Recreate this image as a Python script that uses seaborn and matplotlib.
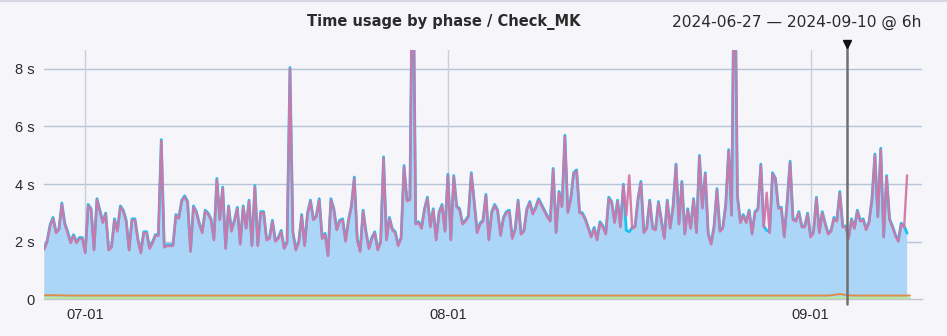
import numpy as np
import pandas as pd
import matplotlib
matplotlib.use("Agg")
import matplotlib.pyplot as plt
import matplotlib.dates as mdates
import matplotlib.transforms as mtransforms
import seaborn as sns

# ---------------- data (seconds, 6h steps from 2024-06-27 12:00) ----------------
start_time = "2024-06-27 12:00"
step = "6h"

# top of the stacked blue area (cyan edge)
stack_total = [
    1.73, 2.0, 2.55, 2.8, 2.3, 2.4, 3.3, 2.6, 2.3, 1.95,
    2.2, 1.95, 2.1, 2.1, 1.6, 3.25, 3.1, 1.7, 3.45, 3.05,
    2.65, 2.95, 1.7, 1.8, 2.75, 2.35, 3.2, 3.05, 2.7, 1.7,
    2.75, 2.75, 2.05, 1.6, 2.3, 2.3, 1.75, 1.95, 2.2, 2.2,
    5.5, 1.8, 1.85, 1.85, 1.85, 2.9, 2.8, 3.4, 3.55, 3.35,
    1.65, 3.2, 3.0, 2.6, 2.3, 3.05, 2.95, 2.75, 2.05, 4.15,
    2.75, 3.85, 1.75, 3.2, 2.35, 2.7, 3.15, 1.9, 3.2, 2.45,
    3.4, 1.85, 3.9, 1.85, 3.0, 3.0, 2.05, 2.1, 2.7, 2.0,
    2.1, 2.35, 1.75, 1.95, 8.0, 2.3, 1.7, 1.95, 2.9, 1.85,
    2.95, 3.4, 2.75, 2.85, 3.45, 2.1, 2.25, 1.5, 3.45, 3.1,
    2.4, 2.7, 2.75, 2.0, 2.7, 3.2, 4.2, 2.05, 1.65, 3.05,
    2.3, 1.75, 2.1, 2.3, 1.7, 1.95, 4.9, 2.05, 2.8, 2.4,
    2.3, 1.85, 2.1, 4.6, 3.4, 3.45, 13.0, 2.6, 2.65, 2.45,
    3.1, 3.5, 2.5, 3.1, 2.05, 3.0, 3.25, 2.35, 4.3, 2.05,
    4.25, 3.2, 3.1, 2.6, 2.7, 2.85, 4.35, 3.35, 2.3, 2.6,
    2.7, 3.6, 2.05, 3.0, 3.25, 3.05, 2.2, 2.8, 3.0, 3.05,
    2.1, 2.4, 3.4, 2.25, 2.35, 3.1, 3.35, 2.95, 3.15, 3.45,
    3.25, 3.05, 2.85, 2.7, 4.5, 2.3, 3.7, 3.2, 5.65, 3.0,
    3.45, 4.35, 4.45, 3.0, 2.95, 2.75, 2.45, 2.15, 2.45, 2.05,
    2.65, 2.5, 2.25, 3.5, 3.35, 2.65, 3.4, 2.5, 3.95, 2.35,
    2.3, 2.45, 2.5, 3.45, 4.05, 2.3, 2.45, 3.4, 2.45, 2.4,
    3.35, 2.7, 2.1, 3.4, 2.45, 3.2, 4.65, 2.6, 4.05, 2.25,
    3.1, 2.45, 3.45, 2.3, 4.95, 3.15, 4.35, 2.25, 1.9, 2.5,
    3.8, 2.35, 2.45, 3.25, 5.15, 2.9, 13.0, 3.55, 2.65, 2.9,
    2.65, 3.05, 2.25, 3.0, 3.1, 4.65, 2.5, 2.35, 2.3, 4.35,
    4.15, 3.15, 3.15, 2.15, 3.35, 4.75, 2.75, 2.7, 3.0, 2.5,
    2.5, 2.95, 2.15, 2.3, 3.5, 2.3, 3.0, 2.6, 2.25, 2.35,
    2.8, 2.7, 3.7, 2.5, 2.5, 2.1, 2.75, 2.45, 3.05, 2.7,
    2.75, 2.4, 2.65, 3.45, 5.0, 2.85, 5.2, 2.15, 4.25, 2.75,
    2.5, 2.2, 2.0, 2.6, 2.5, 2.25,
]

# total execution time line (pink)
execution_time = [
    1.73, 2.0, 2.55, 2.8, 2.3, 2.4, 3.3, 2.6, 2.3, 1.95,
    2.2, 1.95, 2.1, 2.1, 1.6, 3.25, 3.1, 1.7, 3.45, 3.05,
    2.65, 2.95, 1.7, 1.8, 2.75, 2.35, 3.2, 3.05, 2.7, 1.7,
    2.75, 2.75, 2.05, 1.6, 2.3, 2.3, 1.75, 1.95, 2.2, 2.2,
    5.5, 1.8, 1.85, 1.85, 1.85, 2.9, 2.8, 3.4, 3.55, 3.35,
    1.65, 3.2, 3.0, 2.6, 2.3, 3.05, 2.95, 2.75, 2.05, 4.15,
    2.75, 3.85, 1.75, 3.2, 2.35, 2.7, 3.15, 1.9, 3.2, 2.45,
    3.4, 1.85, 3.9, 1.85, 3.0, 3.0, 2.05, 2.1, 2.7, 2.0,
    2.1, 2.35, 1.75, 1.95, 8.0, 2.3, 1.7, 1.95, 2.9, 1.85,
    2.95, 3.4, 2.75, 2.85, 3.45, 2.1, 2.25, 1.5, 3.45, 3.1,
    2.4, 2.7, 2.75, 2.0, 2.7, 3.2, 4.2, 2.05, 1.65, 3.05,
    2.3, 1.75, 2.1, 2.3, 1.7, 1.95, 4.9, 2.05, 2.8, 2.4,
    2.3, 1.85, 2.1, 4.6, 3.4, 3.45, 13.0, 2.6, 2.65, 2.45,
    3.1, 3.5, 2.5, 3.1, 2.05, 3.0, 3.25, 2.35, 4.3, 2.05,
    4.25, 3.2, 3.1, 2.6, 2.7, 2.85, 4.35, 3.35, 2.3, 2.6,
    2.7, 3.6, 2.05, 3.0, 3.25, 3.05, 2.2, 2.8, 3.0, 3.05,
    2.1, 2.4, 3.4, 2.25, 2.35, 3.1, 3.35, 2.95, 3.15, 3.45,
    3.25, 3.05, 2.85, 2.7, 4.5, 2.3, 3.7, 3.2, 5.65, 3.0,
    3.45, 4.35, 4.45, 3.0, 2.95, 2.75, 2.45, 2.15, 2.45, 2.05,
    2.65, 2.5, 2.25, 3.5, 3.35, 2.65, 3.4, 2.5, 3.95, 2.9,
    4.3, 2.45, 2.5, 3.45, 4.05, 2.3, 2.45, 3.4, 2.45, 2.4,
    3.35, 2.7, 2.1, 3.4, 2.45, 3.2, 4.65, 2.6, 4.05, 2.25,
    3.1, 2.45, 3.45, 2.3, 4.95, 3.15, 4.35, 2.25, 1.9, 2.5,
    3.8, 2.35, 2.45, 3.25, 5.15, 2.9, 13.0, 3.55, 2.65, 2.9,
    2.65, 3.05, 2.25, 3.0, 3.1, 4.65, 2.5, 3.7, 2.3, 4.35,
    4.15, 3.15, 3.15, 2.15, 3.35, 4.75, 2.75, 2.7, 3.0, 2.5,
    2.5, 2.95, 2.15, 2.3, 3.5, 2.3, 3.0, 2.6, 2.25, 2.35,
    2.8, 2.7, 3.7, 2.5, 2.5, 2.1, 2.75, 2.45, 3.05, 2.7,
    2.75, 2.4, 2.65, 3.45, 5.0, 2.85, 5.2, 2.15, 4.25, 2.75,
    2.5, 2.2, 2.0, 2.6, 2.5, 4.3,
]

# small bottom layers, daily (noon) values
daily_start = "2024-06-27 12:00"
agent_time = [
    0.10, 0.10, 0.10, 0.10, 0.10, 0.10, 0.10, 0.10, 0.10, 0.10,
    0.10, 0.10, 0.10, 0.10, 0.10, 0.10, 0.10, 0.10, 0.10, 0.10,
    0.10, 0.10, 0.10, 0.10, 0.10, 0.10, 0.10, 0.10, 0.10, 0.10,
    0.10, 0.10, 0.10, 0.10, 0.10, 0.10, 0.10, 0.10, 0.10, 0.10,
    0.10, 0.10, 0.10, 0.10, 0.10, 0.10, 0.10, 0.10, 0.10, 0.10,
    0.10, 0.10, 0.10, 0.10, 0.10, 0.10, 0.10, 0.10, 0.10, 0.10,
    0.10, 0.10, 0.10, 0.10, 0.10, 0.10, 0.10, 0.10, 0.11, 0.10,
    0.10, 0.10, 0.10, 0.10, 0.10,
]
system_time = [
    0.14, 0.14, 0.13, 0.13, 0.13, 0.13, 0.13, 0.13, 0.13, 0.13,
    0.13, 0.13, 0.13, 0.13, 0.13, 0.13, 0.13, 0.13, 0.13, 0.13,
    0.13, 0.13, 0.13, 0.13, 0.13, 0.13, 0.13, 0.13, 0.13, 0.13,
    0.13, 0.13, 0.13, 0.13, 0.13, 0.13, 0.13, 0.13, 0.13, 0.13,
    0.13, 0.13, 0.13, 0.13, 0.13, 0.13, 0.13, 0.13, 0.13, 0.13,
    0.13, 0.13, 0.13, 0.13, 0.13, 0.13, 0.13, 0.13, 0.13, 0.13,
    0.13, 0.13, 0.13, 0.13, 0.13, 0.13, 0.13, 0.13, 0.18, 0.13,
    0.13, 0.13, 0.13, 0.13, 0.13,
]

y_ticks = [0, 2, 4, 6, 8]
y_tick_labels = ["0", "2 s", "4 s", "6 s", "8 s"]
x_ticks = ["2024-07-01", "2024-08-01", "2024-09-01"]
x_tick_labels = ["07-01", "08-01", "09-01"]
cursor_time = "2024-09-04 02:40"
title = "Time usage by phase / Check_MK"
range_text = "2024-06-27 \u2014 2024-09-10 @ 6h"

# ---------------- build frames ----------------
times = pd.date_range(start_time, periods=len(stack_total), freq=step)
df = pd.DataFrame({"time": times, "stack": stack_total, "exec": execution_time})
dtimes = pd.date_range(daily_start, periods=len(agent_time), freq="1D")
ddf = pd.DataFrame({"time": dtimes, "agent": agent_time, "system": system_time})

# ---------------- style ----------------
sns.set_theme(style="white")
bg = "#f5f5fa"
plt.rcParams["font.family"] = ["Liberation Sans", "DejaVu Sans"]

W, H = 947, 336
fig = plt.figure(figsize=(W / 100, H / 100), dpi=100, facecolor=bg)
ax = fig.add_axes([44.3 / W, 1 - 299.3 / H, (921.7 - 44.3) / W, (299.3 - 50) / H])
ax.set_facecolor(bg)

x0 = pd.Timestamp(start_time)
x1 = x0 + pd.Timedelta(days=75.0)
ax.set_xlim(x0, x1)
ax.set_ylim(0, 8.65)

# grid
for yt in y_ticks[1:]:
    ax.axhline(yt, color="#b7c3d7", lw=1.0, zorder=0.5)
for xt in x_ticks:
    ax.axvline(pd.Timestamp(xt), color="#c9cedb", lw=1.0, zorder=0.5)

# stacked areas
ax.fill_between(df["time"], 0, df["stack"], color="#acd6f8", lw=0, zorder=1)
ax.fill_between(ddf["time"], 0, ddf["agent"], color="#b4ec9c", lw=0, zorder=2)
sns.lineplot(data=ddf, x="time", y="system", ax=ax, color="#e08c44", lw=1.4, zorder=3)

# top lines
up = mtransforms.offset_copy(ax.transData, fig=fig, x=0, y=1.2, units="dots")
sns.lineplot(data=df, x="time", y="stack", ax=ax, color="#18c2f2", lw=2.0,
             zorder=4, transform=up)
sns.lineplot(data=df, x="time", y="exec", ax=ax, color="#d277a8", lw=1.7,
             zorder=5, alpha=0.95)

# axes cosmetics
for s in ["top", "right", "left"]:
    ax.spines[s].set_visible(False)
ax.spines["bottom"].set_color("#c4c4cc")
ax.spines["bottom"].set_linewidth(1.0)
ax.set_xlabel("")
ax.set_ylabel("")
ax.set_yticks(y_ticks)
ax.set_yticklabels(y_tick_labels)
ax.set_xticks([pd.Timestamp(t) for t in x_ticks])
ax.set_xticklabels(x_tick_labels)
ax.tick_params(axis="both", length=0, labelsize=10.5, colors="#2b2b2b")
ax.tick_params(axis="y", pad=7)
ax.tick_params(axis="x", pad=6)

# cursor
ct = pd.Timestamp(cursor_time)
ax.plot([ct, ct], [-0.15, 8.9], color="#707070", lw=1.8, zorder=6, clip_on=False)
ax.plot([ct], [8.87], marker="v", color="#111111", markersize=5.5, zorder=7,
        clip_on=False)

# titles
fig.text(444 / W, 1 - 22 / H, title, ha="center", va="center", fontsize=10.5,
         fontweight="bold", family=["DejaVu Sans"], color="#2b2b2b")
fig.text(921 / W, 1 - 22 / H, range_text, ha="right", va="center", fontsize=11.2,
         family=["DejaVu Sans"], color="#2b2b2b")
fig.add_artist(plt.Line2D([0, 1], [1 - 0.8 / H, 1 - 0.8 / H], color="#d6d6e4",
                          lw=1.5, transform=fig.transFigure))

fig.savefig("out.png", dpi=100, facecolor=bg)
